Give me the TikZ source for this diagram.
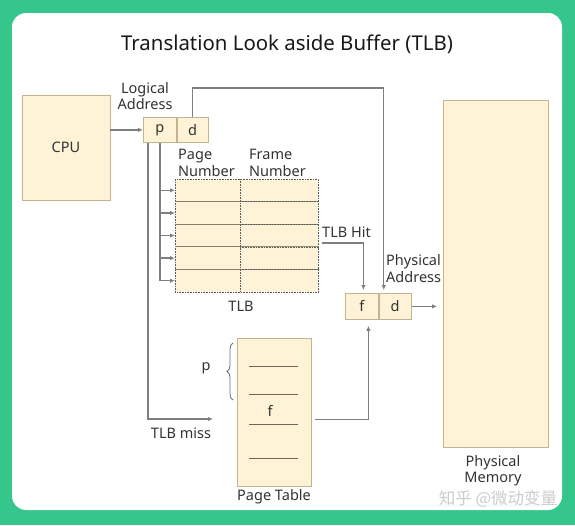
\documentclass[tikz,border=0pt]{standalone}
\usepackage{fontspec}
\setmainfont{Noto Sans}
\newfontfamily\cjk{Noto Sans CJK SC}
\usetikzlibrary{arrows.meta,decorations.pathreplacing,calc}
\definecolor{bg}{HTML}{34C68B}
\definecolor{cream}{HTML}{FEF3D6}
\definecolor{edge}{HTML}{C2B490}
\definecolor{wirec}{HTML}{7F7F7F}
\definecolor{ink}{HTML}{333333}
\begin{document}
\begin{tikzpicture}[x=1pt,y=-1pt,
  box/.style={draw=edge,fill=cream,line width=0.8pt,inner sep=0pt,font=\fontsize{14.5}{16}\selectfont,text=ink},
  tlbbox/.style={draw=ink!80,fill=cream,densely dotted,line width=0.6pt,inner sep=0pt},
  lbl/.style={font=\fontsize{14.5}{16.5}\selectfont,text=ink,align=center,inner sep=0pt},
  lbll/.style={lbl,align=left},
  wire/.style={draw=wirec,line width=1.3pt},
  arr/.style={wire,-{Latex[length=5pt,width=4.5pt]}}]
\useasboundingbox (0,0) rectangle (575,525);
\fill[bg] (0,0) rectangle (575,525);
\fill[white,rounded corners=14pt] (12,13) rectangle (562,510);
% title
\node[font=\fontsize{20.4}{23}\selectfont,inner sep=0pt,text=black!90] (title) at (287,44) {Translation Look aside Buffer (TLB)};
% CPU
\node[box,minimum width=88pt,minimum height=105pt] (cpu) at (66,147.5) {CPU};
% logical address
\node[box,anchor=north west,minimum width=33pt,minimum height=25pt] (p) at (143,117) {p};
\node[box,anchor=west,minimum width=31pt,minimum height=25pt] (d) at (p.east) {d};
\node[lbl] (lalbl) at (145,96) {Logical\\Address};
\draw[arr] (cpu.east |- p.west) -- (p.west);
% TLB
\node[tlbbox,anchor=north west,minimum width=143pt,minimum height=113pt] (tlb) at (175,179) {};
\foreach \i in {1,2,3,4}
  \draw[draw=edge!70!black,line width=0.7pt] ($(tlb.north west)+(0,22.6*\i)$) -- ($(tlb.north east)+(0,22.6*\i)$);
\foreach \i in {1,2,3,4}
  \draw[tlbbox] ($(tlb.north west)+(65,22.6*\i)$) -- ($(tlb.north east)+(0,22.6*\i)$);
\draw[tlbbox] ($(tlb.north west)+(65,0)$) -- ($(tlb.south west)+(65,0)$);
\foreach \i in {1,...,5}
  \coordinate (row\i) at ($(tlb.north west)+(0,22.6*\i-11.3)$);
\draw[arr] (p.south) |- (row5);
\foreach \i in {1,2,3,4}
  \draw[arr] (p.south |- row\i) -- (row\i);
\node[lbll,anchor=west] (pnlbl) at (178,163) {Page\\Number};
\node[lbll,anchor=west] (fnlbl) at (249,163) {Frame\\Number};
\node[lbl] (tlblbl) at (241,306) {TLB};
% physical address
\node[box,anchor=north west,minimum width=33pt,minimum height=26pt] (f2) at (345,293) {f};
\node[box,anchor=west,minimum width=32pt,minimum height=26pt] (d2) at (f2.east) {d};
\node[lbll,anchor=west] (palbl) at (386,268.5) {Physical\\Address};
\draw[arr] (d.north) -- ($(d.north)+(0,-29)$) -| ($(d2.north west)+(5,-3)$);
\node[lbl,anchor=west] (hitlbl) at (322,232.5) {TLB Hit};
\coordinate (hitstart) at (322,243);
\draw[arr] (hitstart) -| ($(f2.north)+(1.5,-3)$);
% memory
\node[box,anchor=north west,minimum width=105pt,minimum height=347pt] (mem) at (443,100) {};
\node[lbl] (memlbl) at (493,470.5) {Physical\\Memory};
\coordinate (memin) at ($(mem.west |- d2.east)+(-6,0)$);
\draw[arr] (d2.east) -- (memin);
% page table
\node[box,anchor=north west,minimum width=74pt,minimum height=148pt] (pt) at (237,338) {};
\foreach \yy in {366,394,424,458}
  \draw[draw=ink!60!edge,line width=0.8pt] (249,\yy) -- (298,\yy);
\node[lbl] (ptf) at (270,411) {f};
\node[lbl] (ptlbl) at (274,497) {Page Table};
\draw[draw=ink!70,line width=0.8pt,decorate,decoration={brace,amplitude=6pt}] (233,400) -- (233,343);
\node[lbl] (plbl) at (206,368) {p};
\coordinate (miss) at (213,419);
\draw[arr] ($(p.south west)+(5,0)$) |- (miss);
\node[lbl] (misslbl) at (181,433) {TLB miss};
\draw[arr] ($(pt.east)+(3,7)$) -| ($(f2.south)+(6.5,6)$);
% watermark
\node[font=\cjk\fontsize{16.5}{18}\selectfont,text=gray!40,inner sep=0pt] (wm) at (498,499) {知乎 @微动变量};
\end{tikzpicture}
\end{document}
